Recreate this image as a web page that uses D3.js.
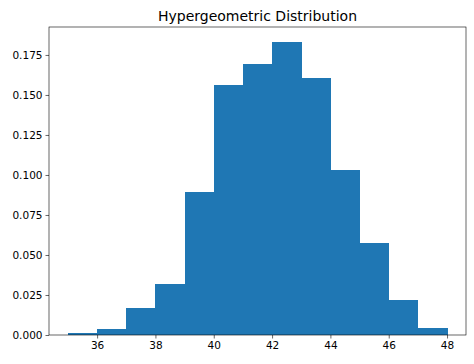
<!DOCTYPE html>
<html>
<head>
	<meta charset="utf-8">
	<title>Hypergeometric Distribution</title>
	<style>
		body { margin: 0; background: #fff; }
		text { font-family: "DejaVu Sans", sans-serif; fill: #000; }
	</style>
</head>
<body>
	<script src="https://d3js.org/d3.v7.min.js" charset="utf-8"></script>
	<script>
// histogram bins (left edges, width 1) and density values
var binEdges = [35, 36, 37, 38, 39, 40, 41, 42, 43, 44, 45, 46, 47, 48];
var density = [0.0012, 0.0037, 0.0166, 0.0318, 0.0891, 0.1560, 0.1694, 0.1833, 0.1609, 0.1030, 0.0577, 0.0218, 0.0044];
var xTicks = [36, 38, 40, 42, 44, 46, 48];
var yTicks = [0, 0.025, 0.05, 0.075, 0.1, 0.125, 0.15, 0.175];
var title = 'Hypergeometric Distribution';

var width = 474, height = 364;
var margin = {left: 49, right: 8, top: 27, bottom: 29};

var svg = d3.select('body').append('svg')
			.attr('width', width)
			.attr('height', height);

var span = binEdges[binEdges.length - 1] - binEdges[0];
var x = d3.scaleLinear()
		.domain([binEdges[0] - span * 0.05, binEdges[binEdges.length - 1] + span * 0.05])
		.range([margin.left, width - margin.right]);

var yMax = d3.max(density) * 1.05;
var y = d3.scaleLinear()
		.domain([0, yMax])
		.range([height - margin.bottom, margin.top]);

var bins = density.map(function(d, i) {
	return {x0: binEdges[i], x1: binEdges[i + 1], v: d};
});

svg.append('g').selectAll('rect')
	.data(bins)
	.enter()
	.append('rect')
	.attr('x', function(d) { return x(d.x0); })
	.attr('width', function(d) { return x(d.x1) - x(d.x0) + 0.5; })
	.attr('y', function(d) { return y(d.v); })
	.attr('height', function(d) { return y(0) - y(d.v); })
	.attr('fill', '#1f77b4')
	.attr('shape-rendering', 'crispEdges');

// axes
var xAxis = svg.append('g')
	.attr('transform', 'translate(0,' + (height - margin.bottom) + ')')
	.call(d3.axisBottom(x).tickValues(xTicks).tickSize(3.5).tickPadding(3).tickFormat(d3.format('d')));

var yAxis = svg.append('g')
	.attr('transform', 'translate(' + margin.left + ',0)')
	.call(d3.axisLeft(y).tickValues(yTicks).tickSize(3.5).tickPadding(3).tickFormat(d3.format('.3f')));

[xAxis, yAxis].forEach(function(a) {
	a.select('.domain').remove();
	a.selectAll('line').attr('stroke', '#000').attr('stroke-width', 0.6);
	a.selectAll('text').attr('font-size', 10.5).attr('font-family', '"DejaVu Sans", sans-serif').attr('fill', '#000');
});

// frame
svg.append('rect')
	.attr('x', margin.left)
	.attr('y', margin.top)
	.attr('width', width - margin.right - margin.left)
	.attr('height', height - margin.bottom - margin.top)
	.attr('fill', 'none')
	.attr('stroke', '#000')
	.attr('stroke-width', 0.6);

svg.append('text')
	.attr('x', (margin.left + width - margin.right) / 2)
	.attr('y', margin.top - 6)
	.attr('text-anchor', 'middle')
	.attr('font-size', 14)
	.text(title);
	</script>
</body>
</html>
